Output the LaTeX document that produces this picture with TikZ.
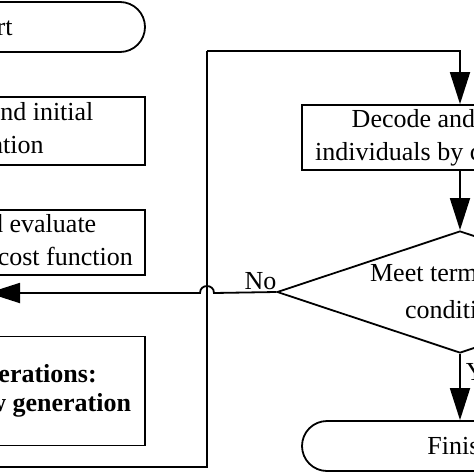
\documentclass[tikz,border=0pt]{standalone}
\usepackage{fontspec}
\setmainfont{Liberation Serif}
\usetikzlibrary{shapes.geometric, arrows.meta, positioning}

\begin{document}
\begin{tikzpicture}[x=1pt, y=-1pt,
    term/.style={draw, line width=1.8pt, rounded corners=25pt, minimum width=314pt, minimum height=50pt, align=center, font=\fontsize{26}{33}\selectfont},
    proc/.style={draw, line width=1.8pt, minimum width=314pt, align=center, font=\fontsize{26}{33}\selectfont},
    decide/.style={draw, diamond, aspect=3, inner sep=0pt, line width=1.8pt, minimum width=366pt, minimum height=122pt, align=center, font=\fontsize{26}{37}\selectfont},
    lbl/.style={font=\fontsize{26}{33}\selectfont},
    arr/.style={-{Triangle[length=32pt, width=20pt]}, line width=1.8pt},
]
\useasboundingbox (0,0) rectangle (474,474);
\clip (0,0) rectangle (474,474);

% left column
\node[term] (start) at (-12, 27) {Start};
\node[proc, minimum height=68pt] (init) at (-12, 131) {Encoding and initial\\population};
\node[proc, minimum height=65pt] (evall) at (-12, 242.5) {Decode and evaluate\\individuals by cost function};
\node[proc, minimum height=109pt, font=\fontsize{26}{29}\selectfont\bfseries] (genop) at (-12, 391) {Genetic operations:\\produce a new generation};

% right column
\node[proc, minimum width=316pt, minimum height=65pt] (decode) at (460, 137.5) {Decode and evaluate\\individuals by cost function};
\node[decide] (check) at (460, 292) {Meet termination\\condition?};
\node[term, minimum width=316pt] (finish) at (460, 446) {Finish};

\coordinate (merge) at (-12, 293);
\coordinate (loopb) at (207, 467);
\coordinate (loopt) at (207, 51);
\coordinate (jumpr) at (214, 293);
\coordinate (jumpl) at (200, 293);

\draw[arr] (start) -- (init);
\draw[arr] (init) -- (evall);
\draw[arr] (evall) -- (genop);
\draw[line width=1.8pt] (genop.south) |- (loopb) -- (loopt);
\draw[arr] (loopt) -| (decode.north);
\draw[arr] (decode) -- (check);
\draw[arr] (check) -- node[lbl, right, pos=0.28, inner sep=5pt] (yeslbl) {Yes} (finish);
\draw[arr] (check.west) -- node[lbl, above, pos=0.25, inner sep=2pt] (nolbl) {No} (jumpr)
    .. controls (214, 283.7) and (200, 283.7) .. (jumpl) -- (merge);

\end{tikzpicture}
\end{document}
